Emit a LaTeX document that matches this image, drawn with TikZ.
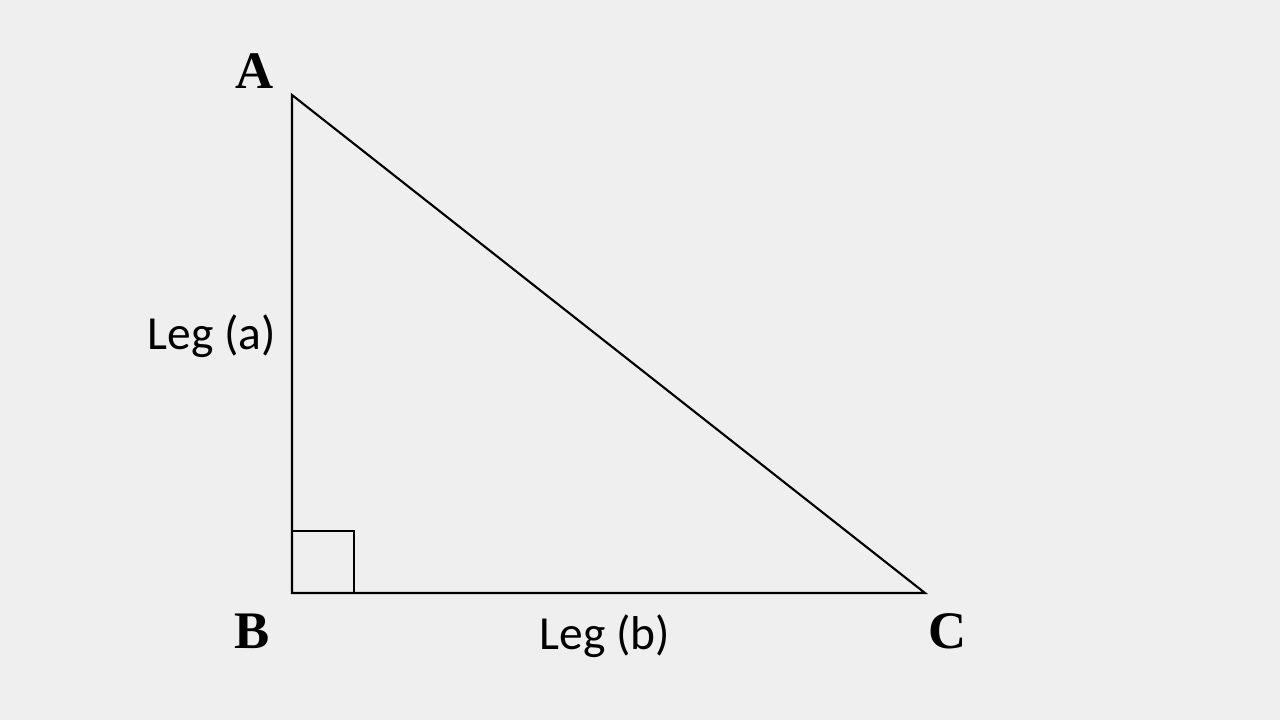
\documentclass[tikz,border=0pt]{standalone}
\usepackage{fontspec}
\setmainfont{Liberation Serif}
\newfontfamily\legfont{Carlito}
\usetikzlibrary{positioning}
\definecolor{paper}{HTML}{EFEFEF}

\begin{document}
\begin{tikzpicture}[x=0.01cm, y=-0.01cm, line width=0.6pt]
   \fill[paper] (0,0) rectangle (1280,720);
   \useasboundingbox (0,0) rectangle (1280,720);
   \begin{scope}[every node/.style={font=\bfseries\fontsize{15}{18}\selectfont, inner sep=0pt}]
    \coordinate (A) at (292,95);
    \coordinate (B) at (292,593);
    \coordinate (C) at (925,593);
    \node (la) at (255,71) {A};
    \node (lb) at (252,631) {B};
    \node (lc) at (948,631) {C};
   \end{scope}
   \begin{scope}[every node/.style={font=\legfont\fontsize{13.5}{16}\selectfont, inner sep=0pt}]
    \node (lega) at (212,336) {Leg (a)};
    \node (legb) at (605,636) {Leg (b)};
   \end{scope}
   \draw (A) -- (B) -- (C) -- cycle;
   % right angle mark
   \draw (B) ++(0,-62) -| ++(62,62);
\end{tikzpicture}
\end{document}
